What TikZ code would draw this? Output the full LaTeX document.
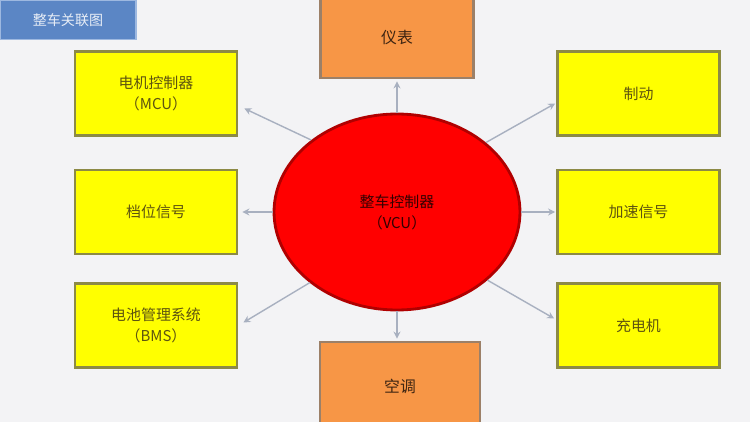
\documentclass[tikz,border=0pt]{standalone}
\usepackage{fontspec}
\setmainfont{Noto Sans CJK SC}
\usetikzlibrary{shapes.geometric,arrows.meta}
\definecolor{bgc}{HTML}{F3F3F5}
\definecolor{ybox}{HTML}{FFFF00}
\definecolor{ybord}{HTML}{8C8A45}
\definecolor{obox}{HTML}{F79646}
\definecolor{obord}{HTML}{9C8068}
\definecolor{vred}{HTML}{FF0000}
\definecolor{vbord}{HTML}{B00000}
\definecolor{conc}{HTML}{A8B0C0}
\definecolor{tblue}{HTML}{5B86C5}
\definecolor{tbord}{HTML}{9DB8E0}
\definecolor{ytext}{HTML}{5E5410}
\tikzset{
  ystyle/.style={draw=ybord, line width=1.6pt, fill=ybox, minimum width=3.24cm, minimum height=1.68cm, inner sep=0pt, align=center, text=ytext, font=\fontsize{8.5pt}{12pt}\selectfont},
  ostyle/.style={draw=obord, line width=1.6pt, fill=obox, inner sep=0pt, text=black!75!obox, font=\fontsize{9pt}{12pt}\selectfont},
  conn/.style={draw=conc, line width=0.8pt, -{Stealth[length=4pt,width=4pt]}}
}
\begin{document}
\begin{tikzpicture}[x=0.02cm,y=-0.02cm]
\fill[bgc] (0,0) rectangle (750,422);
\useasboundingbox (0,0) rectangle (750,422);
\node[draw=tbord, line width=1pt, fill=tblue, minimum width=2.72cm, minimum height=0.78cm, inner sep=0pt, text=white!85!tblue, font=\fontsize{8pt}{10pt}\selectfont] (title) at (68,20) {整车关联图};
\node[ostyle, minimum width=3.06cm, minimum height=1.62cm] (yb) at (397,37.5) {仪表};
\node[ostyle, minimum width=3.2cm, minimum height=1.76cm] (kt) at (400,386) {空调};
\node[ellipse, draw=vbord, line width=1.6pt, fill=vred, minimum width=4.92cm, minimum height=3.92cm, inner sep=0pt, align=center, text=black!80!vred, font=\fontsize{8.5pt}{12pt}\selectfont] (vcu) at (397,212) {整车控制器\\（VCU）};
\node[ystyle] (mcu) at (156,93.5) {电机控制器\\（MCU）};
\node[ystyle] (dw) at (156,212) {档位信号};
\node[ystyle] (bms) at (156,325.5) {电池管理系统\\（BMS）};
\node[ystyle] (zd) at (638.5,93.5) {制动};
\node[ystyle] (js) at (638.5,212) {加速信号};
\node[ystyle] (cdj) at (638.5,325.5) {充电机};
\draw[conn] (vcu.north) -- ([yshift=-0.04cm]yb.south);
\draw[conn] (vcu.south) -- ([yshift=0.04cm]vcu.south |- kt.north);
\draw[conn] (vcu.140) -- ([shift={(6,15)}]mcu.east);
\draw[conn] (vcu.west) -- ([xshift=0.08cm]dw.east);
\draw[conn] (vcu.219) -- ([shift={(5,-3)}]bms.east);
\draw[conn] (vcu.38) -- ([shift={(-1,10)}]zd.west);
\draw[conn] (vcu.east) -- ([xshift=-0.02cm]js.west);
\draw[conn] (vcu.-37) -- ([shift={(-2,-7)}]cdj.west);
\end{tikzpicture}
\end{document}
